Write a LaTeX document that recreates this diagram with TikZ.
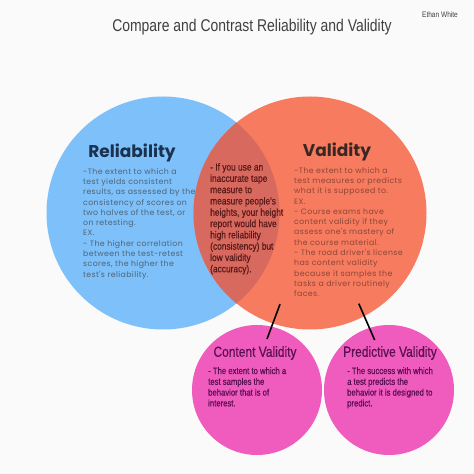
\documentclass[tikz,border=0pt]{standalone}
\usepackage{fontspec}
\setmainfont{Liberation Sans}
\newfontfamily\condfont[FakeStretch=0.82]{Liberation Sans}
\newfontfamily\condmed[FakeStretch=0.82,FakeBold=0.6]{Liberation Sans}
\newfontfamily\roundfont{Poppins}
\newfontfamily\spacedfont[LetterSpace=5]{Poppins}
\usetikzlibrary{calc}
\definecolor{pagebg}{HTML}{FAFAFA}
\definecolor{relblue}{HTML}{7EC0F9}
\definecolor{valorange}{HTML}{F67B5F}
\definecolor{lensred}{HTML}{D8695E}
\definecolor{subpink}{HTML}{F05CBE}
\definecolor{reltext}{HTML}{1A3150}
\definecolor{relbody}{HTML}{4E6478}
\definecolor{valtext}{HTML}{3A2622}
\definecolor{valbody}{HTML}{8E4636}
\definecolor{lenstext}{HTML}{5A1A1A}
\definecolor{subtext}{HTML}{5A1050}

\begin{document}
\begin{tikzpicture}[x=1pt,y=1pt,
  bigdisc/.style={circle,inner sep=0pt,minimum size=233pt},
  subdisc/.style={circle,fill=subpink,inner sep=0pt,minimum size=130pt},
  heading/.style={font=\roundfont\bfseries\fontsize{17}{17}\selectfont},
  bodytext/.style={anchor=north west,inner sep=0pt,align=left,font=\spacedfont\fontsize{7.8}{10.3}\selectfont},
  condtext/.style={anchor=north west,inner sep=0pt,align=left,font=\condmed\fontsize{9.4}{10.8}\selectfont},
  subhead/.style={font=\condmed\fontsize{14.6}{14.6}\selectfont,text=subtext},
  link/.style={line width=1.6pt,black}]
\fill[pagebg] (0,0) rectangle (474,474);
\useasboundingbox (0,0) rectangle (474,474);
% main circles
\node[bigdisc,fill=relblue] (rel) at (163,261) {};
\node[bigdisc,fill=valorange] (valid) at (310,261) {};
\begin{scope}
  \clip (rel.center) circle[radius=116.5];
  \fill[lensred] (valid.center) circle[radius=116.5];
\end{scope}
% sub circles
\node[subdisc] (content) at (257,84) {};
\node[subdisc] (predict) at (389,84) {};
\draw[link] ($(valid)+(-108.2:96)$) -- ($(content)+(78.9:52)$);
\draw[link] ($(valid)+(-61.7:103)$) -- ($(predict)+(106:52)$);
% titles
\node[font=\condfont\fontsize{17}{17}\selectfont,text=black!75] (title) at (252,447) {Compare and Contrast Reliability and Validity};
\node[font=\condfont\fontsize{8}{8}\selectfont,text=black!75] (author) at (440,459) {Ethan White};
\node[heading,text=reltext] (relhead) at (132,321) {Reliability};
\node[heading,text=valtext] (validhead) at (337,322) {Validity};
\node[bodytext,text=relbody] (relbody) at (83,306) {-The extent to which a\\test yields consistent\\results, as assessed by the\\consistency of scores on\\two halves of the test, or\\on retesting.\\EX.\\- The higher correlation\\between the test-retest\\scores, the higher the\\test's reliability.};
\node[condtext,text=lenstext,font=\condmed\fontsize{10.2}{11.3}\selectfont] (lensbody) at (210,311) {- If you use an\\inaccurate tape\\measure to\\measure people's\\heights, your height\\report would have\\high reliability\\(consistency) but\\low validity\\(accuracy).};
\node[bodytext,text=valbody] (validbody) at (294,307) {-The extent to which a\\test measures or predicts\\what it is supposed to.\\EX.\\- Course exams have\\content validity if they\\assess one's mastery of\\the course material.\\- The road driver's license\\has content validity\\because it samples the\\tasks a driver routinely\\faces.};
\node[subhead] (contenthead) at (255,121) {Content Validity};
\node[subhead] (predicthead) at (390,121) {Predictive Validity};
\node[condtext,text=subtext] (contentbody) at (208,107) {- The extent to which a\\test samples the\\behavior that is of\\interest.};
\node[condtext,text=subtext] (predictbody) at (347,107) {- The success with which\\a test predicts the\\behavior it is designed to\\predict.};
\end{tikzpicture}
\end{document}
